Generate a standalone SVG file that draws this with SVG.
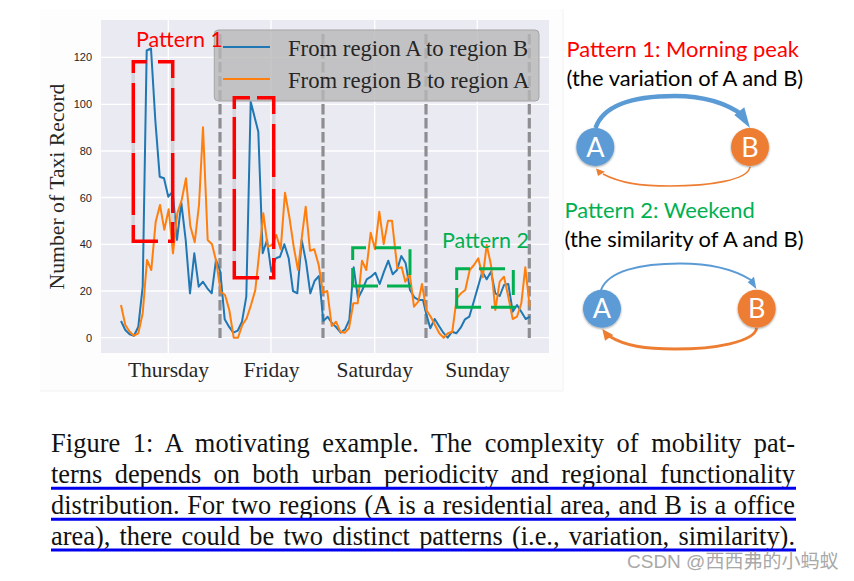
<svg xmlns="http://www.w3.org/2000/svg" width="854" height="581" viewBox="0 0 854 581">
<style>
.grid{stroke:#fff;stroke-width:1.3;fill:none}
.sep{stroke:#8e8e92;stroke-width:3.2;stroke-dasharray:10.5 3.5;fill:none}
.s{fill:none;stroke-width:2;stroke-linejoin:round}
.red{stroke:#f00;stroke-width:3.5;fill:none}
.halo{stroke:#d4d4da;stroke-width:3.5;fill:none}
.grn{stroke:#00b050;stroke-width:3;fill:none}
.serif{font-family:"Liberation Serif","Times New Roman",serif;fill:#262626}
.tick{font-family:"Liberation Sans",Arial,sans-serif;font-size:11px;fill:#262626;text-anchor:end}
.cal{font-family:Lato,"Noto Sans",sans-serif;font-size:21.9px}
.pl{font-family:Lato,"Noto Sans",sans-serif;font-size:21.5px}
.day{font-size:21.5px;text-anchor:middle}
.cap{font-family:"Liberation Serif","Times New Roman",serif;font-size:26.4px;fill:#111}
.ul{stroke:#0000ee;stroke-width:3;fill:none}
.nt{font-family:Lato,"Noto Sans",sans-serif;font-size:27px;fill:#fff;text-anchor:middle}
</style>
<defs>
<filter id="sh" x="-30%" y="-30%" width="160%" height="160%"><feDropShadow dx="0" dy="1" stdDeviation="1.2" flood-color="#000" flood-opacity="0.4"/></filter>
</defs>
<rect x="40" y="9" width="523" height="382" fill="#fdfdfd"/>
<path d="M563 9V391H40" fill="none" stroke="#f1f1f1"/>
<g id="plot">
<rect x="101" y="20" width="448" height="333" fill="#eaeaf2"/>
<path class="grid" d="M101 57.3H549M101 104.3H549M101 151H549M101 197.5H549M101 244.3H549M101 291H549M101 337.7H549M168.3 20V353M271 20V353M374.7 20V353M477.3 20V353"/>
<path class="sep" d="M220 34V338M323 34V338M426 34V338M529.3 34V338"/>
<polyline class="s" stroke="#1f77b4" points="121,321 125.3,330 129.7,334.3 134,335.7 138.3,326.7 142.7,286.7 146.7,50.5 151,48.5 155.3,120 159.7,176.7 164,178.3 168.3,196.7 172.7,191.7 177,240 181.3,202.7 185.7,240 190,293.3 194.3,253.3 198.7,286.7 203,281.7 207.3,288.3 211.7,293.3 216,260 220.3,271.7 224.7,319.3 229,326.7 233.3,332.7 237.7,330.7 242,321.7 246.3,296.7 250.7,101.7 258.3,131.7 262.7,253.3 267,240 271.3,271.7 275.7,258.3 280,256.7 284.3,244.3 288.7,258.3 293,291 297.3,293.3 301.7,240 306,261.7 310.3,293.3 314.7,280.7 319,276 323.3,321 327.7,316.7 332,323.3 336.3,327.3 340.7,332.7 345,329.3 349.3,320 353.7,267.3 358,298.3 362.3,290 366.7,279.3 371,276.7 375.3,272.7 379.7,284 384,271.7 388.3,260.7 392.7,274.3 397,270 401.3,256 405.7,263.3 410,290 414.3,297.3 418.7,300 423,300 426,313 430.3,328.3 434.7,319 439,326 443.3,332.7 447.7,337.7 452,331.7 456.3,333.3 460.7,327.7 465,319.3 469.3,316.7 473.7,301.7 478,286.7 482.3,271.7 486.7,279.3 491,271.7 495.3,293.3 499.7,296 504,285 508.3,284 512.7,311.7 517,305 521.3,311.7 525.7,319 530,316.7"/>
<polyline class="s" stroke="#ff7f0e" points="121,305 125.3,325 129.7,331.7 134,335.7 138.3,333.3 142.7,313.3 147,260 151.3,270 155.7,221.7 160,205 164.3,229.7 168.7,209.3 173,253.3 177.3,213.3 181.7,200 186,178.3 190.3,226 194.7,242.3 199,205 203,127.3 207.7,240 212,244.3 216.3,261.7 220.7,291.7 225,295 229.3,310 233.7,337.7 238,337.7 242.3,325 246.7,318.3 251,305 255.3,290 259.7,248.3 263.3,213.3 267.7,246.7 272,245 276.3,235 280.7,249.3 285,192.7 289.3,216.7 293.7,246.7 298,270 302.3,233.3 305.7,206.7 310,250.7 314.3,249.3 318.7,265 323,292.7 327.3,291 331.7,326 336,321.7 340.3,331.7 344.7,332.7 349,328.3 353.3,303.3 357.7,303.3 362,260.7 366.3,270 370.7,232.7 375,249.3 379.3,211.7 383.7,244 388,220.7 392,220.7 397.3,268.3 401.7,267.3 405.3,281.7 409.7,274 414,306.7 418.3,301.7 422,284 426.3,310 430.7,316.7 435,325 439.3,333.3 443.7,337.7 448,333.3 452.3,331.7 456.7,298.3 461,293.3 465.3,290 469.7,270 474,265 478.3,258.3 482.7,277.3 486.7,245 491,265 495.3,310 499.7,281.7 504,276.7 508.3,296.7 512.7,319 517,316.7 521.3,303.3 525.3,267.3 529.7,306.7"/>
<rect x="214.3" y="30" width="324.7" height="71" rx="4" fill="#b8b8b8" fill-opacity="0.8" stroke="#a5a5a5" stroke-width="1"/>
<path class="halo" d="M133.3 73V83M133.3 143V153M133.3 215V225M172.7 78V88M172.7 141V153M172.7 213V222M234.3 109V117M234.3 179V189M234.3 251V261M273.7 114V124M273.7 177V189M273.7 249V258"/>
<path class="red" d="M133.3 73V61.7H146.7M158 61.7H172.7V78M172.7 88V141M172.7 153V213M172.7 222V241.3H168M158 241.3H133.3V225M133.3 215V153M133.3 143V83"/>
<path class="red" d="M234.3 109V97.7H250M257 97.7H273.7V114M273.7 124V177M273.7 189V249M273.7 258V277.7H269M259 277.7H234.3V261M234.3 251V189M234.3 179V117"/>
<path class="grn" d="M352.7 260V247.7H366M375 247.7H401M410 249.3V275M411 286H387M378 286H352.7V268"/>
<path class="grn" d="M456.7 280V268.7H470M479 268.7H505M513.3 270V295M515 307.3H491M481 307.3H456.7V288"/>
<path d="M223 47H270" stroke="#1f77b4" stroke-width="1.8"/>
<path d="M223 79H270" stroke="#ff7f0e" stroke-width="1.8"/>
<text class="serif" x="288" y="55.5" font-size="22.7">From region A to region B</text>
<text class="serif" x="288" y="87.5" font-size="22.7">From region B to region A</text>
<text class="tick" x="92" y="61.3">120</text>
<text class="tick" x="92" y="108.3">100</text>
<text class="tick" x="92" y="155">80</text>
<text class="tick" x="92" y="201.5">60</text>
<text class="tick" x="92" y="248.3">40</text>
<text class="tick" x="92" y="295">20</text>
<text class="tick" x="92" y="341.7">0</text>
<text class="serif day" x="168.5" y="377">Thursday</text>
<text class="serif day" x="271.5" y="377">Friday</text>
<text class="serif day" x="374.7" y="377">Saturday</text>
<text class="serif day" x="477.5" y="377">Sunday</text>
<text class="serif" font-size="21.7" text-anchor="middle" transform="translate(64,186.5) rotate(-90)">Number of Taxi Record</text>
<text class="pl" x="136" y="47.3" fill="#f00">Pattern 1</text>
<text class="pl" x="442" y="247.5" fill="#00b050">Pattern 2</text>
</g>
<g id="labels">
<text class="cal" x="566.5" y="57" fill="#f00">Pattern 1: Morning peak</text>
<text class="cal" x="566.5" y="85.5" fill="#000">(the variation of A and B)</text>
<text class="cal" x="564.5" y="218" fill="#00b050">Pattern 2: Weekend</text>
<text class="cal" x="564.5" y="247" fill="#000">(the similarity of A and B)</text>
</g>
<g id="connectors">
<path d="M595.5 128C603 106 632 96 675 96C705 96 728 104 744 116" fill="none" stroke="#5b9bd5" stroke-width="4.5"/>
<polygon points="750,128 734.3,115 744.3,107.3" fill="#5b9bd5"/>
<path d="M750 167C748 180 710 186 670 186C640 186 620 183 603 174" fill="none" stroke="#ed7d31" stroke-width="1.6"/>
<polygon points="596,168.5 598,176 605,171.7" fill="#ed7d31"/>
<path d="M601 290C608 271 640 263.5 680 263.5C710 263.5 735 270 751 280" fill="none" stroke="#5b9bd5" stroke-width="2"/>
<polygon points="756.3,289 747.7,282.3 754,276.7" fill="#5b9bd5"/>
<path d="M756.7 328.3C754 342 715 349 675 349C645 349 625 346 609 336" fill="none" stroke="#ed7d31" stroke-width="2.8"/>
<polygon points="602.3,329 605,340.7 613.3,335" fill="#ed7d31"/>
</g>
<g id="node-a1"><circle cx="595.3" cy="147" r="19" fill="#5b9bd5" filter="url(#sh)"/><text class="nt" x="595.3" y="156.5">A</text></g>
<g id="node-b1"><circle cx="750" cy="147" r="19" fill="#ed7d31" filter="url(#sh)"/><text class="nt" x="750" y="156.5">B</text></g>
<g id="node-a2"><circle cx="602" cy="308.7" r="19" fill="#5b9bd5" filter="url(#sh)"/><text class="nt" x="602" y="318">A</text></g>
<g id="node-b2"><circle cx="756.7" cy="308.7" r="19" fill="#ed7d31" filter="url(#sh)"/><text class="nt" x="756.7" y="318">B</text></g>
<g id="caption">
<text class="cap" x="51" y="452.4" word-spacing="5.9" textLength="744">Figure 1: A motivating example. The complexity of mobility pat-</text>
<text class="cap" x="51" y="482.7" word-spacing="5.75" textLength="744">terns depends on both urban periodicity and regional functionality</text>
<text class="cap" x="51" y="514" word-spacing="0.88" textLength="744">distribution. For two regions (A is a residential area, and B is a office</text>
<text class="cap" x="51" y="544.7" word-spacing="2.59" textLength="744">area), there could be two distinct patterns (i.e., variation, similarity).</text>
<path class="ul" d="M51 488.3H796M51 519.3H796M51 550H796"/>
</g>
<text x="627" y="568" font-family="'Liberation Sans','Noto Sans CJK SC',sans-serif" font-size="19" fill="#a8a8a8">CSDN @西西弗的小蚂蚁</text>
</svg>
